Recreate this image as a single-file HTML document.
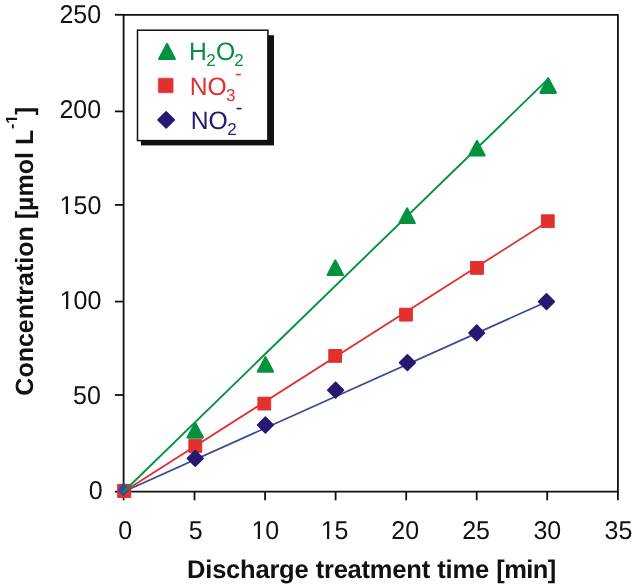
<!DOCTYPE html>
<html><head><meta charset="utf-8"><style>
html,body{margin:0;padding:0;background:#fff;}
svg{display:block;}
text{font-family:"Liberation Sans",Arial,sans-serif;text-rendering:geometricPrecision;}
.tl{font-size:25px;fill:#111;}
.lg{font-size:24.7px;}
.sb{font-size:17px;}
.ti{font-size:25.5px;font-weight:bold;fill:#111;}
.ti2{font-size:25px;font-weight:bold;fill:#111;}
.sp{font-size:16px;}
.mi{font-size:20px;}
</style></head><body>
<svg width="637" height="588" viewBox="0 0 637 588">
<path d="M123.6 14.8 H617.9 V491.7 H123.6 Z" fill="none" stroke="#0e100f" stroke-width="1.8"/>
<line x1="114.9" y1="14.8" x2="123.6" y2="14.8" stroke="#0e100f" stroke-width="1.8"/>
<text transform="translate(59.47 22.70) scale(1 1.03)" class="tl">250</text>
<line x1="114.9" y1="111.4" x2="123.6" y2="111.4" stroke="#0e100f" stroke-width="1.8"/>
<text transform="translate(59.47 117.90) scale(1 1.03)" class="tl">200</text>
<line x1="114.9" y1="204.9" x2="123.6" y2="204.9" stroke="#0e100f" stroke-width="1.8"/>
<text transform="translate(59.57 213.70) scale(1 1.03)" class="tl">150</text>
<line x1="114.9" y1="301.6" x2="123.6" y2="301.6" stroke="#0e100f" stroke-width="1.8"/>
<text transform="translate(59.67 308.80) scale(1 1.03)" class="tl">100</text>
<line x1="114.9" y1="395.0" x2="123.6" y2="395.0" stroke="#0e100f" stroke-width="1.8"/>
<text transform="translate(73.07 404.00) scale(1 1.03)" class="tl">50</text>
<line x1="114.9" y1="491.7" x2="123.6" y2="491.7" stroke="#0e100f" stroke-width="1.8"/>
<text transform="translate(88.67 499.10) scale(1 1.03)" class="tl">0</text>
<line x1="123.6" y1="491.7" x2="123.6" y2="500.3" stroke="#0e100f" stroke-width="1.8"/>
<text transform="translate(118.15 538.5) scale(1 1.03)" class="tl">0</text>
<line x1="194.5" y1="491.7" x2="194.5" y2="500.3" stroke="#0e100f" stroke-width="1.8"/>
<text transform="translate(188.87 538.5) scale(1 1.03)" class="tl">5</text>
<line x1="265.1" y1="491.7" x2="265.1" y2="500.3" stroke="#0e100f" stroke-width="1.8"/>
<text transform="translate(251.43 538.5) scale(1 1.03)" class="tl">10</text>
<line x1="335.6" y1="491.7" x2="335.6" y2="500.3" stroke="#0e100f" stroke-width="1.8"/>
<text transform="translate(320.67 538.5) scale(1 1.03)" class="tl">15</text>
<line x1="406.2" y1="491.7" x2="406.2" y2="500.3" stroke="#0e100f" stroke-width="1.8"/>
<text transform="translate(391.31 538.5) scale(1 1.03)" class="tl">20</text>
<line x1="476.7" y1="491.7" x2="476.7" y2="500.3" stroke="#0e100f" stroke-width="1.8"/>
<text transform="translate(462.19 538.5) scale(1 1.03)" class="tl">25</text>
<line x1="547.2" y1="491.7" x2="547.2" y2="500.3" stroke="#0e100f" stroke-width="1.8"/>
<text transform="translate(533.41 538.5) scale(1 1.03)" class="tl">30</text>
<line x1="617.9" y1="491.7" x2="617.9" y2="500.3" stroke="#0e100f" stroke-width="1.8"/>
<text transform="translate(604.50 538.5) scale(1 1.03)" class="tl">35</text>
<rect x="117.70" y="484.40" width="13.00" height="13.00" fill="#e0312f" stroke="#e0312f" stroke-width="1.0" stroke-linejoin="round"/>
<path d="M123.4 482.3 L130.0 489.4 L123.4 496.3 L117.4 490.3Z" fill="#324a98"/>
<line x1="123.6" y1="491.7" x2="547.20" y2="301.59" stroke="#324a98" stroke-width="1.7" stroke-linecap="round"/>
<line x1="123.6" y1="491.7" x2="547.20" y2="222.04" stroke="#e0312f" stroke-width="1.8" stroke-linecap="round"/>
<line x1="123.6" y1="491.7" x2="547.20" y2="79.94" stroke="#04923f" stroke-width="1.9" stroke-linecap="round"/>
<path d="M195.25 423.10 L202.90 437.60 L187.60 437.60Z" fill="#04923f" stroke="#04923f" stroke-width="2.2" stroke-linejoin="round"/><path d="M265.45 357.15 L273.10 371.65 L257.80 371.65Z" fill="#04923f" stroke="#04923f" stroke-width="2.2" stroke-linejoin="round"/><path d="M335.30 260.45 L342.95 274.95 L327.65 274.95Z" fill="#04923f" stroke="#04923f" stroke-width="2.2" stroke-linejoin="round"/><path d="M407.10 208.50 L414.75 223.00 L399.45 223.00Z" fill="#04923f" stroke="#04923f" stroke-width="2.2" stroke-linejoin="round"/><path d="M476.95 140.90 L484.60 155.40 L469.30 155.40Z" fill="#04923f" stroke="#04923f" stroke-width="2.2" stroke-linejoin="round"/><path d="M548.15 78.30 L555.80 92.80 L540.50 92.80Z" fill="#04923f" stroke="#04923f" stroke-width="2.2" stroke-linejoin="round"/>
<rect x="188.90" y="439.60" width="12.80" height="12.80" fill="#e0312f" stroke="#e0312f" stroke-width="1.0" stroke-linejoin="round"/><rect x="257.90" y="397.20" width="12.80" height="12.80" fill="#e0312f" stroke="#e0312f" stroke-width="1.0" stroke-linejoin="round"/><rect x="328.80" y="349.50" width="12.80" height="12.80" fill="#e0312f" stroke="#e0312f" stroke-width="1.0" stroke-linejoin="round"/><rect x="399.60" y="308.25" width="12.80" height="12.80" fill="#e0312f" stroke="#e0312f" stroke-width="1.0" stroke-linejoin="round"/><rect x="470.60" y="261.50" width="12.80" height="12.80" fill="#e0312f" stroke="#e0312f" stroke-width="1.0" stroke-linejoin="round"/><rect x="541.40" y="214.80" width="12.80" height="12.80" fill="#e0312f" stroke="#e0312f" stroke-width="1.0" stroke-linejoin="round"/>
<path d="M195.25 450.55 L203.10 458.40 L195.25 466.25 L187.40 458.40Z" fill="#271872" stroke="#271872" stroke-width="1.6" stroke-linejoin="round"/><path d="M265.40 417.15 L273.25 425.00 L265.40 432.85 L257.55 425.00Z" fill="#271872" stroke="#271872" stroke-width="1.6" stroke-linejoin="round"/><path d="M335.60 382.25 L343.45 390.10 L335.60 397.95 L327.75 390.10Z" fill="#271872" stroke="#271872" stroke-width="1.6" stroke-linejoin="round"/><path d="M407.40 354.75 L415.25 362.60 L407.40 370.45 L399.55 362.60Z" fill="#271872" stroke="#271872" stroke-width="1.6" stroke-linejoin="round"/><path d="M476.70 325.10 L484.55 332.95 L476.70 340.80 L468.85 332.95Z" fill="#271872" stroke="#271872" stroke-width="1.6" stroke-linejoin="round"/><path d="M546.50 293.75 L554.35 301.60 L546.50 309.45 L538.65 301.60Z" fill="#271872" stroke="#271872" stroke-width="1.6" stroke-linejoin="round"/>
<rect x="141" y="35.2" width="133" height="110.2" fill="#111"/>
<rect x="137.5" y="30.2" width="130.4" height="110.4" fill="#fff" stroke="#0e100f" stroke-width="1.5"/>
<path d="M167.00 44.00 L174.85 58.90 L159.15 58.90Z" fill="#04923f" stroke="#04923f" stroke-width="2.2" stroke-linejoin="round"/>
<rect x="158.3" y="78.2" width="14.8" height="14.6" rx="0.8" fill="#e0312f" stroke="#e0312f" stroke-width="0.6"/>
<path d="M166.15 111.75 L174.25 119.85 L166.15 127.95 L158.05 119.85Z" fill="#271872" stroke="#271872" stroke-width="1.6" stroke-linejoin="round"/>
<text transform="translate(188.97 60) scale(1 1.02)" class="lg" fill="#04923f">H<tspan class="sb" dx="-0.5" dy="5.9">2</tspan><tspan dx="0.2" dy="-5.9">O</tspan><tspan class="sb" dx="-0.9" dy="5.9">2</tspan></text>
<text transform="translate(189.64 95) scale(1 1.02)" class="lg" fill="#e0312f">NO<tspan class="sb" dy="5.9" dx="-0.55">3</tspan><tspan class="mi" dx="-0.55" dy="-20.3">-</tspan></text>
<text transform="translate(190.67 129) scale(1 1.02)" class="lg" fill="#271872">NO<tspan class="sb" dy="5.9" dx="-0.5">2</tspan><tspan class="mi" dx="-0.8" dy="-20.3">-</tspan></text>
<text y="577.8" class="ti"><tspan x="187.10" style="letter-spacing:-0.22px">Discharge</tspan> <tspan x="315.70" style="letter-spacing:-0.22px">treatment</tspan> <tspan x="437.30" style="letter-spacing:-0.22px">time</tspan> <tspan x="496.30" style="letter-spacing:-0.6px">[min]</tspan></text>
<g transform="translate(33.0 251.3) rotate(-90)"><text text-anchor="middle" class="ti2">Concentration [µmol L<tspan class="sp" dx="0.8" dy="-16.3">-1</tspan><tspan dx="-0.5" dy="16.3">]</tspan></text><rect x="127.81" y="-18.28" width="3.53" height="2.53" fill="#fff"/><rect x="133.53" y="-18.28" width="3.32" height="2.53" fill="#fff"/></g>
<g transform="translate(59.57 213.70) scale(1 1.03)"><rect x="1.10" y="-2.22" width="5.18" height="2.77" fill="#fff"/><rect x="8.50" y="-2.22" width="4.99" height="2.77" fill="#fff"/></g>
<g transform="translate(59.67 308.80) scale(1 1.03)"><rect x="1.10" y="-2.22" width="5.18" height="2.77" fill="#fff"/><rect x="8.50" y="-2.22" width="4.99" height="2.77" fill="#fff"/></g>
<g transform="translate(251.43 538.50) scale(1 1.03)"><rect x="1.10" y="-2.22" width="5.18" height="2.77" fill="#fff"/><rect x="8.50" y="-2.22" width="4.99" height="2.77" fill="#fff"/></g>
<g transform="translate(320.67 538.50) scale(1 1.03)"><rect x="1.10" y="-2.22" width="5.18" height="2.77" fill="#fff"/><rect x="8.50" y="-2.22" width="4.99" height="2.77" fill="#fff"/></g>
</svg>
</body></html>
